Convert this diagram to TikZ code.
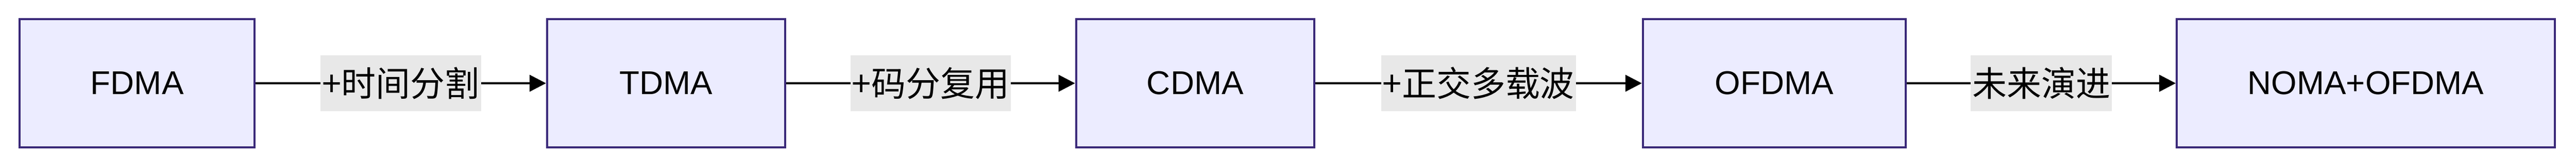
\documentclass[tikz,border=0pt]{standalone}
\usepackage{fontspec}
\setmainfont{Liberation Sans}
\newfontfamily\cjk{Noto Sans CJK SC}
\usetikzlibrary{arrows.meta}
\definecolor{boxfill}{HTML}{ECECFF}
\definecolor{boxdraw}{HTML}{3B2A7A}
\definecolor{lblfill}{HTML}{E8E8E8}
\tikzset{
  box/.style={draw=boxdraw,fill=boxfill,line width=1.3pt,minimum height=78pt,inner sep=0pt,font=\fontsize{20}{24}\selectfont},
  lbl/.style={fill=lblfill,inner xsep=1pt,inner ysep=0pt,minimum height=34pt,font=\cjk\fontsize{21}{24}\selectfont},
  conn/.style={line width=1.3pt,-{Triangle[length=10pt,width=10pt]}}
}
\begin{document}
\begin{tikzpicture}[x=1pt,y=1pt]
\useasboundingbox (0,0) rectangle (1568,101);
\node[box,minimum width=143pt] (a) at (83.5,50.5) {FDMA};
\node[box,minimum width=145pt] (b) at (405.5,50.5) {TDMA};
\node[box,minimum width=145pt] (c) at (727.5,50.5) {CDMA};
\node[box,minimum width=160pt] (d) at (1080,50.5) {OFDMA};
\node[box,minimum width=230pt] (e) at (1440,50.5) {NOMA+OFDMA};
\draw[conn] (a) -- node[lbl] {+时间分割} (b);
\draw[conn] (b) -- node[lbl] {+码分复用} (c);
\draw[conn] (c) -- node[lbl] {+正交多载波} (d);
\draw[conn] (d) -- node[lbl] {未来演进} (e);
\end{tikzpicture}
\end{document}
